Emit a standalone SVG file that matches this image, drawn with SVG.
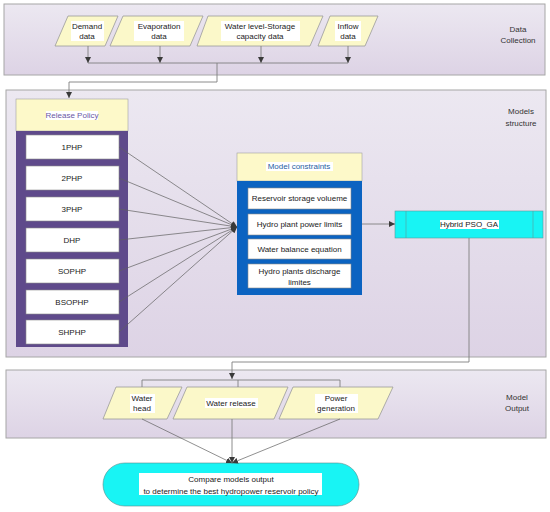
<svg xmlns="http://www.w3.org/2000/svg" width="550" height="512" viewBox="0 0 550 512">
<defs>
<linearGradient id="pg" x1="0" y1="0" x2="0" y2="1">
<stop offset="0" stop-color="#ece8f1"/>
<stop offset="1" stop-color="#ddd3e5"/>
</linearGradient>
<marker id="ah" viewBox="0 0 10 10" refX="10" refY="5" markerWidth="6" markerHeight="6" orient="auto" markerUnits="userSpaceOnUse">
<path d="M0,0 L10,5 L0,10 z" fill="#3a3a3a"/>
</marker>
</defs>
<style>
.panel{fill:url(#pg);stroke:#a6a6a6;stroke-width:1}
.para{fill:#fbf8c9;stroke:#9a9a9a;stroke-width:0.8}
.t{font-family:"Liberation Sans",Arial,sans-serif;font-size:8px;fill:#1a1a1a;text-anchor:middle}
.lbl{font-family:"Liberation Sans",Arial,sans-serif;font-size:8px;fill:#333;text-anchor:middle}
.bg{fill:#ffffff}
.item{fill:#ffffff;stroke:#8a8a8a;stroke-width:0.6}
.c{fill:none;stroke:#808080;stroke-width:0.9}
.cd{fill:none;stroke:#606060;stroke-width:0.7}
</style>

<g id="panel-data">
<rect class="panel" x="4" y="4" width="541" height="71"/>
<text class="lbl" x="518" y="32">Data</text>
<text class="lbl" x="518" y="43">Collection</text>
</g>
<g id="panel-models">
<rect class="panel" x="6" y="90" width="540" height="267"/>
<text class="lbl" x="521" y="114">Models</text>
<text class="lbl" x="521" y="126">structure</text>
</g>
<g id="panel-output">
<rect class="panel" x="6" y="370" width="540" height="68"/>
<text class="lbl" x="517" y="400">Model</text>
<text class="lbl" x="517" y="411">Output</text>
</g>

<g id="demand">
<polygon class="para" points="68,16 118,16 105,46 55,46"/>
<rect class="bg" x="71" y="21" width="33" height="20"/>
<text class="t" x="87" y="29">Demand</text>
<text class="t" x="87" y="39">data</text>
</g>
<g id="evaporation">
<polygon class="para" points="123,16 203,16 190,46 110,46"/>
<rect class="bg" x="134" y="21" width="50" height="20"/>
<text class="t" x="159" y="29">Evaporation</text>
<text class="t" x="159" y="39">data</text>
</g>
<g id="waterlevel">
<polygon class="para" points="208,16 323,16 310,46 197,46"/>
<rect class="bg" x="221" y="21" width="79" height="20"/>
<text class="t" x="260" y="29">Water level-Storage</text>
<text class="t" x="260" y="39">capacity data</text>
</g>
<g id="inflow">
<polygon class="para" points="330,16 378,16 365,46 318,46"/>
<rect class="bg" x="335" y="21" width="26" height="20"/>
<text class="t" x="348" y="29">Inflow</text>
<text class="t" x="348" y="39">data</text>
</g>

<g id="release-policy">
<rect x="16" y="99" width="112" height="32" fill="#fdf9c9" stroke="#a0a0a0" stroke-width="0.6"/>
<rect class="bg" x="46" y="111" width="52" height="9"/>
<text class="t" x="72" y="118" style="fill:#6a58a6">Release Policy</text>
<rect x="16" y="131" width="112" height="216" fill="#5f4a8b"/>
<rect class="item" x="26" y="135" width="93" height="24"/>
<text class="t" x="72" y="150">1PHP</text>
<rect class="item" x="26" y="166" width="93" height="24"/>
<text class="t" x="72" y="181">2PHP</text>
<rect class="item" x="26" y="197" width="93" height="24"/>
<text class="t" x="72" y="212">3PHP</text>
<rect class="item" x="26" y="228" width="93" height="24"/>
<text class="t" x="72" y="243">DHP</text>
<rect class="item" x="26" y="259" width="93" height="24"/>
<text class="t" x="72" y="274">SOPHP</text>
<rect class="item" x="26" y="290" width="93" height="24"/>
<text class="t" x="72" y="305">BSOPHP</text>
<rect class="item" x="26" y="320" width="93" height="24"/>
<text class="t" x="72" y="335">SHPHP</text>
</g>

<g id="model-constraints">
<rect x="237" y="153" width="125" height="28" fill="#fdf9c9" stroke="#a0a0a0" stroke-width="0.6"/>
<rect class="bg" x="266" y="162" width="67" height="9"/>
<text class="t" x="299" y="169" style="fill:#1f5f9f">Model constraints</text>
<rect x="237" y="181" width="125" height="114" fill="#0b63c1"/>
<rect class="item" x="248" y="188" width="103" height="21"/>
<text class="t" x="299.5" y="201">Reservoir storage volueme</text>
<rect class="item" x="248" y="214" width="103" height="21"/>
<text class="t" x="299.5" y="227">Hydro plant power limits</text>
<rect class="item" x="248" y="239" width="103" height="20"/>
<text class="t" x="299.5" y="252">Water balance equation</text>
<rect class="item" x="248" y="264" width="103" height="24"/>
<text class="t" x="299.5" y="274">Hydro plants discharge</text>
<text class="t" x="299.5" y="285">limites</text>
</g>

<g id="hybrid">
<rect x="395" y="211" width="148" height="27" fill="#18f4f4" stroke="#5a9a9a" stroke-width="0.6"/>
<line x1="406" y1="211" x2="406" y2="238" stroke="#5a9a9a" stroke-width="0.6"/>
<line x1="533" y1="211" x2="533" y2="238" stroke="#5a9a9a" stroke-width="0.6"/>
<rect class="bg" x="440" y="220" width="59" height="9"/>
<text class="t" x="469" y="227">Hybrid PSO_GA</text>
</g>

<g id="water-head">
<polygon class="para" points="116,387 182,387 167,419 103,419"/>
<rect class="bg" x="130" y="394" width="25" height="19"/>
<text class="t" x="142" y="401">Water</text>
<text class="t" x="142" y="411">head</text>
</g>
<g id="water-release">
<polygon class="para" points="187,387 288,387 274,419 173,419"/>
<rect class="bg" x="205" y="398" width="53" height="10"/>
<text class="t" x="231" y="406">Water release</text>
</g>
<g id="power-generation">
<polygon class="para" points="293,387 393,387 378,419 279,419"/>
<rect class="bg" x="315" y="394" width="43" height="19"/>
<text class="t" x="336" y="401">Power</text>
<text class="t" x="336" y="411">generation</text>
</g>

<g id="compare">
<rect x="103" y="463" width="256" height="43" rx="21.5" ry="21.5" fill="#18f4f4" stroke="#5a8a8a" stroke-width="0.6"/>
<rect class="bg" x="139" y="473" width="183" height="22"/>
<text class="t" x="231" y="482">Compare models output</text>
<text class="t" x="231" y="494">to determine the best hydropower reservoir policy</text>
</g>

<g id="connectors">
<line class="c" x1="88" y1="46" x2="88" y2="63" marker-end="url(#ah)"/>
<line class="c" x1="160" y1="46" x2="160" y2="63" marker-end="url(#ah)"/>
<line class="c" x1="261" y1="46" x2="261" y2="63" marker-end="url(#ah)"/>
<line class="c" x1="348" y1="46" x2="348" y2="63" marker-end="url(#ah)"/>
<line class="c" x1="88" y1="63" x2="348" y2="63"/>
<polyline class="c" points="217,63 217,82 69,82 69,98" marker-end="url(#ah)"/>

<line class="cd" x1="119" y1="147" x2="237" y2="227" marker-end="url(#ah)"/>
<line class="cd" x1="119" y1="178" x2="237" y2="227" marker-end="url(#ah)"/>
<line class="cd" x1="119" y1="209" x2="237" y2="227" marker-end="url(#ah)"/>
<line class="cd" x1="119" y1="240" x2="237" y2="227" marker-end="url(#ah)"/>
<line class="cd" x1="119" y1="271" x2="237" y2="227" marker-end="url(#ah)"/>
<line class="cd" x1="119" y1="302" x2="237" y2="227" marker-end="url(#ah)"/>
<line class="cd" x1="119" y1="332" x2="237" y2="227" marker-end="url(#ah)"/>

<line class="c" x1="362" y1="224" x2="395" y2="224" marker-end="url(#ah)"/>
<polyline class="c" points="469,238 469,362 232,362 232,379" marker-end="url(#ah)"/>
<polyline class="c" points="142,387 142,380 340,380 340,387"/>
<line class="c" x1="238" y1="380" x2="238" y2="387"/>

<line class="cd" x1="142" y1="419" x2="232" y2="463" marker-end="url(#ah)"/>
<line class="c" x1="232" y1="419" x2="232" y2="463" marker-end="url(#ah)"/>
<line class="cd" x1="340" y1="419" x2="232" y2="463" marker-end="url(#ah)"/>
</g>
</svg>
